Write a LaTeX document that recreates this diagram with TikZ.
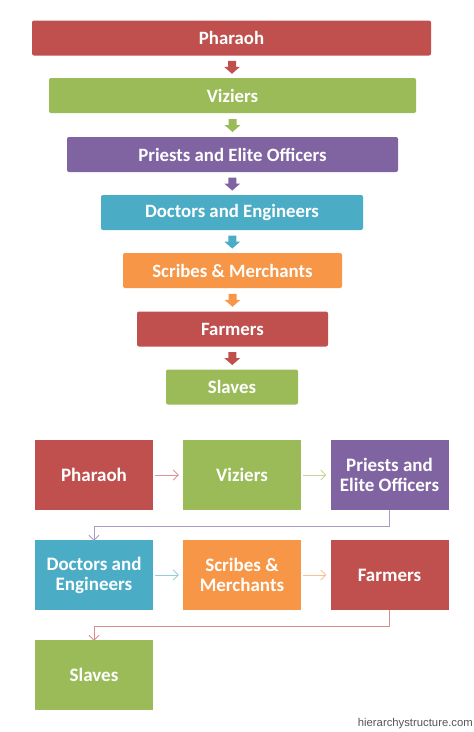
\documentclass[tikz,border=0pt]{standalone}
\usepackage{fontspec}
\setmainfont{Carlito}
\newfontfamily\wmfont{Liberation Sans}
\usetikzlibrary{calc,arrows.meta}
\definecolor{cred}{HTML}{C0504D}
\definecolor{cgreen}{HTML}{9BBB59}
\definecolor{cpurple}{HTML}{8064A2}
\definecolor{cblue}{HTML}{4BACC6}
\definecolor{corange}{HTML}{F79646}
\definecolor{wmgray}{HTML}{555555}
\tikzset{
  topbox/.style={fill=#1, text=white, rounded corners=2pt, inner sep=0pt,
    minimum height=35pt, font=\fontsize{18.8}{20}\selectfont\bfseries, align=center},
  gridbox/.style={fill=#1, text=white, inner sep=0pt, minimum width=118pt,
    minimum height=70pt, font=\fontsize{19}{20}\selectfont\bfseries, align=center},
  flow/.style={draw=#1, line width=0.9pt, -{Straight Barb[length=5pt,width=10pt]}},
}
\newcommand{\blockarrow}[3]{%
  \coordinate (m) at ($(#1.south)!0.5!(#2.north)$);
  \fill[#3] ($(m)+(-4,-6)$) -- ($(m)+(4,-6)$) -- ($(m)+(4,0)$) -- ($(m)+(8,0)$)
    -- ($(m)+(0,7)$) -- ($(m)+(-8,0)$) -- ($(m)+(-4,0)$) -- cycle;}
\begin{document}
\begin{tikzpicture}[x=1pt,y=-1pt]
\useasboundingbox (0,0) rectangle (474,732);
% top chain
\node[topbox=cred, minimum width=399pt] (t1) at (231.5,38) {Pharaoh};
\node[topbox=cgreen, minimum width=367pt] (t2) at (232.5,95.5) {Viziers};
\node[topbox=cpurple, minimum width=331pt] (t3) at (232.5,154.5) {Priests and Elite Officers};
\node[topbox=cblue, minimum width=262pt] (t4) at (232,212.5) {Doctors and Engineers};
\node[topbox=corange, minimum width=219pt] (t5) at (232.5,270.5) {Scribes \& Merchants};
\node[topbox=cred, minimum width=191pt] (t6) at (232.5,329) {Farmers};
\node[topbox=cgreen, minimum width=132pt] (t7) at (232,387) {Slaves};
\blockarrow{t1}{t2}{cred}
\blockarrow{t2}{t3}{cgreen}
\blockarrow{t3}{t4}{cpurple}
\blockarrow{t4}{t5}{cblue}
\blockarrow{t5}{t6}{corange}
\blockarrow{t6}{t7}{cred}
% grid
\node[gridbox=cred] (b1) at (94,475) {Pharaoh};
\node[gridbox=cgreen] (b2) at (242,475) {Viziers};
\node[gridbox=cpurple] (b3) at (389.5,475) {Priests and\\Elite Officers};
\node[gridbox=cblue] (b4) at (94,575) {Doctors and\\Engineers};
\node[gridbox=corange] (b5) at (242,575) {Scribes \&\\Merchants};
\node[gridbox=cred] (b6) at (389.5,575) {Farmers};
\node[gridbox=cgreen] (b7) at (94,675) {Slaves};
\draw[flow=cred!60] ([xshift=2pt]b1.east) -- ([xshift=-4pt]b2.west);
\draw[flow=cgreen!60] ([xshift=2pt]b2.east) -- ([xshift=-4pt]b3.west);
\draw[flow=cblue!60] ([xshift=2pt]b4.east) -- ([xshift=-4pt]b5.west);
\draw[flow=corange!60] ([xshift=2pt]b5.east) -- ([xshift=-4pt]b6.west);
\draw[flow=cpurple!65] (b3.south) -- ++(0,16) -| ([yshift=-1pt]b4.north);
\draw[flow=cred!65] (b6.south) -- ++(0,16) -| ([yshift=-1pt]b7.north);
\node[font=\wmfont\fontsize{11.3}{13}\selectfont, text=wmgray, anchor=east, inner sep=0pt] (wm) at (473,724) {hierarchystructure.com};
\end{tikzpicture}
\end{document}
